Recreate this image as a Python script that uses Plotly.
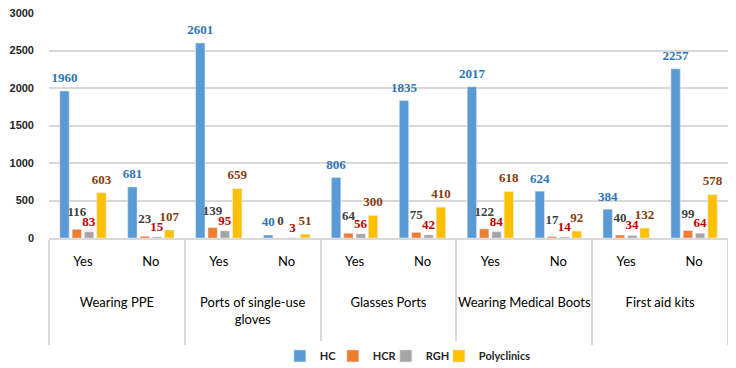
import plotly.graph_objects as go

groups = ["Wearing PPE", "Ports of single-use<br>gloves", "Glasses Ports",
          "Wearing Medical Boots", "First aid kits"]
answers = ["Yes", "No"]
series = ["HC", "HCR", "RGH", "Polyclinics"]
hc = [1960, 681, 2601, 40, 806, 1835, 2017, 624, 384, 2257]
hcr = [116, 23, 139, 0, 64, 75, 122, 17, 40, 99]
rgh = [83, 15, 95, 3, 56, 42, 84, 14, 34, 64]
poly = [603, 107, 659, 51, 300, 410, 618, 92, 132, 578]
y_ticks = [0, 500, 1000, 1500, 2000, 2500, 3000]

bar_colors = ["#5B9BD5", "#ED7D31", "#A5A5A5", "#FFC000"]
label_colors = ["#2E75B6", "#404040", "#C00000", "#843C0C"]
label_lift = [7, 14, None, 8]  # invisible marker size -> label distance above bar
label_font = dict(family="Liberation Serif", size=13, weight="bold")

x = [[g + "<br> " for g in groups for _ in answers],
     [a + "<br> <br> " for _ in groups for a in answers]]

fig = go.Figure()
for name, vals, bc, lc, lift in zip(series, [hc, hcr, rgh, poly], bar_colors,
                                    label_colors, label_lift):
    bar = go.Bar(x=x, y=vals, name=name, marker_color=bc, offsetgroup=name,
                 hoverinfo="skip")
    if lift is None:  # label sits right on top of the bar
        bar.update(text=[str(v) for v in vals], textposition="outside",
                   constraintext="none", cliponaxis=False,
                   textfont=dict(label_font, color=lc))
    fig.add_trace(bar)
for name, vals, lc, lift in zip(series, [hc, hcr, rgh, poly], label_colors, label_lift):
    if lift is None:
        continue
    fig.add_trace(go.Scatter(
        x=x, y=vals, mode="markers+text", offsetgroup=name, showlegend=False,
        marker=dict(size=lift, opacity=0), text=[str(v) for v in vals],
        textposition="top center", cliponaxis=False, hoverinfo="skip",
        textfont=dict(label_font, color=lc),
    ))
# invisible entry that only gives the last legend label room to show
fig.add_trace(go.Scatter(x=[[x[0][0]], [x[1][0]]], y=[0], mode="markers", name=" ",
                         offsetgroup="Polyclinics", hoverinfo="skip",
                         marker=dict(size=1, opacity=0)))

fig.update_layout(
    width=728, height=360,
    margin=dict(l=41, r=8, t=5, b=130, autoexpand=False),
    paper_bgcolor="white", plot_bgcolor="white",
    barmode="group", bargap=0.275, bargroupgap=0.24,
    scattermode="group", scattergap=0.275,
    font=dict(family="Lato", color="#262626"),
    legend=dict(orientation="h", x=0.34, xanchor="left", y=-0.524, yanchor="middle",
                font=dict(family="Lato", size=11, color="#262626", weight="bold"),
                itemwidth=30, entrywidth=8, entrywidthmode="pixels"),
)
fig.update_yaxes(range=[0, 3000], tickvals=y_ticks, showgrid=True, gridcolor="#D9D9D9",
                 gridwidth=1.5, zeroline=False, ticklabelstandoff=14, automargin=False,
                 ticklabeloverflow="allow",
                 tickfont=dict(family="Liberation Sans", size=11, color="#262626", weight="bold"))
fig.update_xaxes(type="multicategory", showline=True, linecolor="#D9D9D9", linewidth=1.5,
                 showdividers=True, dividercolor="#D9D9D9", dividerwidth=1.5,
                 automargin=False, ticklabelstandoff=11,
                 tickfont=dict(family="Lato", size=13, color="#000000"))

fig.write_html("out.html")
